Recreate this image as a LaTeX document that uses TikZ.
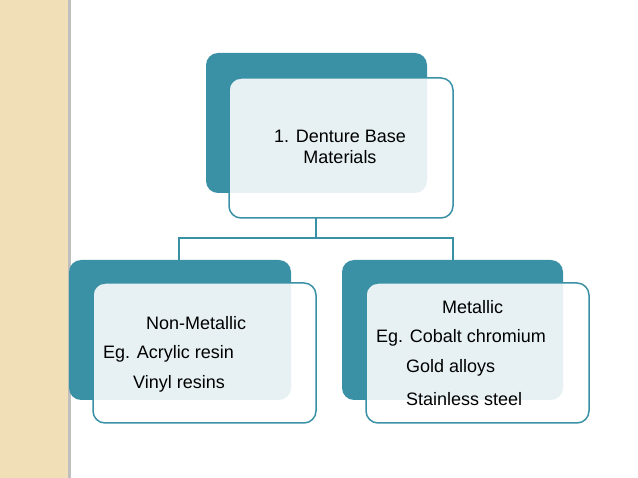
\documentclass[tikz,border=0pt]{standalone}
\usepackage{fontspec}
\setmainfont{Liberation Sans}
\definecolor{teal}{RGB}{58,145,165}
\definecolor{beige}{RGB}{241,224,183}
\begin{document}
\begin{tikzpicture}[x=1pt,y=-1pt,
  darkbox/.style={fill=teal,rounded corners=12pt},
  lightbox/.style={draw=teal,line width=1.5pt,fill=white,fill opacity=0.88,rounded corners=12pt},
  conn/.style={draw=teal,line width=1.5pt},
  lbl/.style={font=\fontsize{18}{21}\selectfont,anchor=west,inner sep=0pt}]
\useasboundingbox (0,0) rectangle (638,478);
\fill[beige] (0,0) rectangle (69,478);
\fill[black!25] (68,0) rectangle (71,478);
% top
\fill[darkbox] (206,53) rectangle (427,193);
\filldraw[lightbox] (229,78) rectangle (453,218);
\node[inner sep=0pt,align=center,font=\fontsize{18}{21}\selectfont] (top) at (340,147) {1. Denture Base\\Materials};
% left
\fill[darkbox] (69,260) rectangle (291,400);
\filldraw[lightbox] (93,283) rectangle (316,423);
\node[lbl] (l1) at (146,323) {Non-Metallic};
\node[lbl] (l2) at (103,354) {Eg. Acrylic resin};
\node[lbl] (l3) at (133,384) {Vinyl resins};
% right
\fill[darkbox] (342,260) rectangle (563,400);
\filldraw[lightbox] (366,283) rectangle (589,423);
\node[lbl] (r1) at (442,307) {Metallic};
\node[lbl] (r2) at (376,338) {Eg. Cobalt chromium};
\node[lbl] (r3) at (406,368) {Gold alloys};
\node[lbl] (r4) at (406,399) {Stainless steel};
% connectors
\coordinate (a) at (316,218);
\coordinate (b) at (316,238);
\coordinate (cl) at (179,260);
\coordinate (cr) at (453,260);
\draw[conn] (a) -- (b);
\draw[conn] (cl) |- (b) -| (cr);
\end{tikzpicture}
\end{document}
